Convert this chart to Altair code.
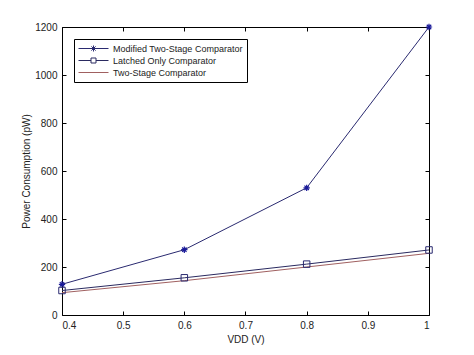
import altair as alt
import pandas as pd

vdd = [0.4, 0.6, 0.8, 1.0]
modified = [128, 272, 530, 1200]
latched = [102, 155, 212, 271]
two_stage = [93, 143, 200, 257]

series_names = ["Modified Two-Stage Comparator", "Latched Only Comparator", "Two-Stage Comparator"]
series_colors = ["#2a2a70", "#2a2a60", "#a06060"]
x_ticks = [0.4, 0.5, 0.6, 0.7, 0.8, 0.9, 1.0]
y_ticks = [0, 200, 400, 600, 800, 1000, 1200]

rows = []
for name, vals in zip(series_names, [modified, latched, two_stage]):
    for v, p in zip(vdd, vals):
        rows.append({"series": name, "vdd": v, "power": p})
df = pd.DataFrame(rows)

FONT = "Liberation Sans"

xscale = alt.Scale(domain=[0.4, 1.0], nice=False, zero=False)
yscale = alt.Scale(domain=[0, 1200], nice=False)
cscale = alt.Scale(domain=series_names, range=series_colors)

legend_paths = [
    "M-1,0H5M2,-0.6V0.6M1.4,0H2.6M1.58,-0.42L2.42,0.42M1.58,0.42L2.42,-0.42",
    "M-1,0H1.5M2.5,0H5M1.5,-0.5H2.5V0.5H1.5Z",
    "M-1,0H5",
]
leg = alt.Legend(title=None, orient="none", legendX=12, legendY=12)

x_bottom = alt.X("vdd:Q", scale=xscale, title="VDD (V)",
                 axis=alt.Axis(orient="bottom", values=x_ticks, format="~g", offset=-4,
                               tickSize=4, labelPadding=5, domain=False, grid=False,
                               titlePadding=4))
y_left = alt.Y("power:Q", scale=yscale, title="Power Consumption (pW)",
               axis=alt.Axis(orient="left", values=y_ticks, format="d", offset=-4, tickSize=4,
                             labelPadding=5, domain=False, grid=False, titlePadding=3))

lines = alt.Chart(df).mark_line(strokeWidth=1).encode(
    x=x_bottom,
    y=y_left,
    color=alt.Color("series:N", scale=cscale, sort=series_names, legend=leg),
    detail="series:N",
)

stars = alt.Chart(df).transform_filter(
    alt.datum.series == series_names[0]
).mark_point(
    shape="M-1,0H1M0,-1V1M-0.7,-0.7L0.7,0.7M-0.7,0.7L0.7,-0.7",
    size=40, filled=False, color="#1a1a99", strokeWidth=1.2, opacity=1,
).encode(x=alt.X("vdd:Q", scale=xscale, axis=None),
         y=alt.Y("power:Q", scale=yscale, axis=None))

squares = alt.Chart(df).transform_filter(
    alt.datum.series == series_names[1]
).mark_point(
    shape="square", size=42, filled=False, color="#2a2a70", strokeWidth=1, opacity=1,
).encode(x=alt.X("vdd:Q", scale=xscale, axis=None),
         y=alt.Y("power:Q", scale=yscale, axis=None))

legend_layer = alt.Chart(df).mark_point(opacity=0, filled=False).encode(
    x=alt.X("vdd:Q", scale=xscale,
            axis=alt.Axis(orient="top", values=x_ticks, labels=False, offset=-4,
                          tickSize=4, domain=False, grid=False, title=None)),
    y=alt.Y("power:Q", scale=yscale,
            axis=alt.Axis(orient="right", values=y_ticks, labels=False, offset=-4,
                          tickSize=4, domain=False, grid=False, title=None)),
    color=alt.Color("series:N", scale=cscale, sort=series_names, legend=leg),
    shape=alt.Shape("series:N", scale=alt.Scale(domain=series_names, range=legend_paths),
                    sort=series_names, legend=leg),
)

chart = alt.layer(lines, stars, squares, legend_layer).resolve_axis(
    x="independent", y="independent"
).properties(
    width=367, height=288,
    padding={"left": 62, "top": 27, "right": 45, "bottom": 40},
    autosize=alt.AutoSizeParams(type="none"),
    background="white",
).configure_view(
    stroke="#000", strokeWidth=1,
).configure_axis(
    labelFont=FONT, titleFont=FONT, labelFontSize=10, titleFontSize=10,
    titleFontWeight="normal", labelColor="#222", titleColor="#222",
    tickColor="#000", tickWidth=1,
).configure_legend(
    labelFont=FONT, labelFontSize=9, labelColor="#222",
    symbolSize=100, symbolStrokeWidth=1, symbolOpacity=1,
    strokeColor="#000", fillColor="white", padding=4,
    labelOffset=24, rowPadding=1,
)

chart.save("out.html", embed_options={"renderer": "svg", "actions": False})
